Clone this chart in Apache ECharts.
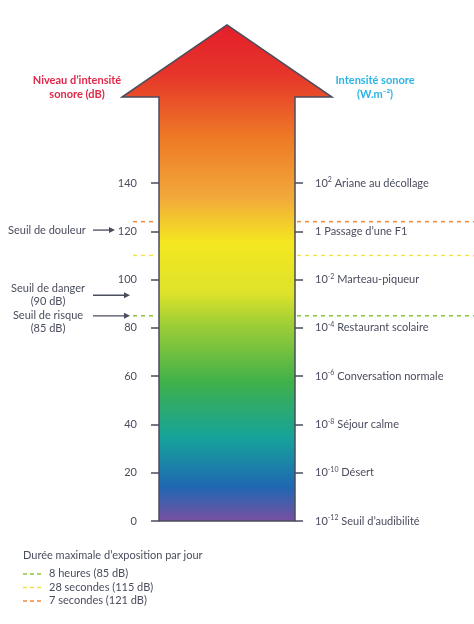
<!DOCTYPE html>
<html><head><meta charset="utf-8">
<script src="https://cdn.jsdelivr.net/npm/echarts@6/dist/echarts.min.js"></script>
<style>html,body{margin:0;background:#fff}#c{width:474px;height:624px}</style>
</head><body><div id="c"></div>
<script>
var chart = echarts.init(document.getElementById('c'));

// arrow outline, in axis units (x: 0..136 shaft, y: dB)
var arrowPts = [[0, 0], [136, 0], [136, 175.6], [173, 175.6], [68, 205.5], [-37, 175.6], [0, 175.6]];
var exponents = ['-12', '-10', '-8', '-6', '-4', '-2', '', '2'];
var sources = ['Seuil d\u2019audibilité', 'Désert', 'Séjour calme', 'Conversation normale',
  'Restaurant scolaire', 'Marteau-piqueur', 'Passage d\u2019une F1', 'Ariane au décollage'];
var limits = [124, 110, 85];
var limitColors = ['#f08a3c', '#f5e04a', '#8cc63f'];
var legendNames = ['8 heures (85 dB)', '28 secondes (115 dB)', '7 secondes (121 dB)'];
var legendColors = ['#8cc63f', '#f5e04a', '#f08a3c'];
var pointers = [{ name: 'douleur', y: 120.5, x0: -66, x1: -44 }, { name: 'danger', y: 93.5, x0: -66, x1: -29 }, { name: 'risque', y: 85, x0: -66, x1: -29 }];

var ink = '#4a4d5e';
var axisCommon = {
  type: 'value', min: 0, max: 140, interval: 20,
  axisLine: { show: false }, splitLine: { show: false },
  axisTick: { show: true, length: 8, lineStyle: { color: ink, width: 1.5 } }
};

function centered(txt, cx, y, fill, font, lh) {
  return { type: 'text', x: cx, y: y, style: { text: txt, align: 'center', fill: fill, font: font, lineHeight: lh } };
}

chart.setOption({
  animation: false,
  grid: { left: 159, right: 179, top: 183, bottom: 103 },
  xAxis: { type: 'value', min: 0, max: 136, show: false },
  yAxis: [
    Object.assign({}, axisCommon, { position: 'left', axisLabel: { margin: 22, color: ink, fontSize: 11, fontFamily: 'Lato' } }),
    Object.assign({}, axisCommon, { position: 'right', axisLabel: {
      margin: 20, align: 'left', fontFamily: 'Lato',
      formatter: function (v) {
        var i = v / 20;
        if (exponents[i] === '') return '{b|1 ' + sources[i] + '}';
        return '{b|10}{s|' + exponents[i] + '}{b| ' + sources[i] + '}';
      },
      rich: { b: { color: ink, fontSize: 11, fontFamily: 'Lato' }, s: { color: ink, fontSize: 7, verticalAlign: 'top', padding: [0, 0, 6, 0], fontFamily: 'Lato' } }
    } })
  ],
  graphic: [
    centered('Niveau d\u2019intensité\nsonore (dB)', 77, 73, '#e0294a', 'bold 11px Lato', 14),
    centered('Intensité sonore\n(W.m\u207b\u00b2)', 375, 73, '#2bb5e6', 'bold 11px Lato', 14),
    { type: 'text', x: 8, y: 225, style: { text: 'Seuil de douleur', fill: ink, font: '11px Lato' } },
    centered('Seuil de danger\n(90 dB)', 48, 282, ink, '11px Lato', 13),
    centered('Seuil de risque\n(85 dB)', 48, 309, ink, '11px Lato', 13),
    { type: 'text', x: 23, y: 550, style: { text: 'Durée maximale d\u2019exposition par jour', fill: ink, font: '11px Lato' } }
  ].concat(legendNames.map(function (n, i) {
    return { type: 'group', x: 23, y: 568 + i * 13.5, children: [
      { type: 'line', shape: { x1: 0, y1: 6, x2: 20, y2: 6 }, style: { stroke: legendColors[i], lineWidth: 1.5, lineDash: [4, 3] } },
      { type: 'text', x: 26, y: 0, style: { text: n, fill: ink, font: '11px Lato' } }
    ] };
  })),
  series: [{
    type: 'custom', clip: false, silent: true, data: [0],
    renderItem: function (params, api) {
      var pts = arrowPts.map(function (p) { return api.coord(p); });
      var children = [{
        type: 'polygon', shape: { points: pts },
        style: { stroke: ink, lineWidth: 1.5, lineJoin: 'miter',
          fill: new echarts.graphic.LinearGradient(0, 0, 0, 1, [
            { offset: 0, color: '#e41e2a' }, { offset: 0.1, color: '#e6352a' },
            { offset: 0.23, color: '#ee7a26' }, { offset: 0.35, color: '#f2aa3a' },
            { offset: 0.44, color: '#f4e720' }, { offset: 0.54, color: '#dde32a' },
            { offset: 0.6, color: '#a2cf35' }, { offset: 0.72, color: '#3fb04a' },
            { offset: 0.83, color: '#16a39a' }, { offset: 0.93, color: '#1f68b3' },
            { offset: 1, color: '#7a4fa0' }
          ]) }
      }];
      limits.forEach(function (v, i) {
        [[-26, -4], [138, 315]].forEach(function (r) {
          var a = api.coord([r[0], v]), b = api.coord([r[1], v]);
          children.push({ type: 'line', shape: { x1: a[0], y1: a[1], x2: b[0], y2: b[1] },
            style: { stroke: limitColors[i], lineWidth: 1.5, lineDash: [4, 4] } });
        });
      });
      pointers.forEach(function (p) {
        var a = api.coord([p.x0, p.y]), b = api.coord([p.x1, p.y]);
        children.push({ type: 'line', shape: { x1: a[0], y1: a[1], x2: b[0] - 4, y2: b[1] }, style: { stroke: ink, lineWidth: 1.3 } });
        children.push({ type: 'polygon', shape: { points: [[b[0], b[1]], [b[0] - 6, b[1] - 3], [b[0] - 6, b[1] + 3]] }, style: { fill: ink } });
      });
      return { type: 'group', children: children };
    }
  }]
});
</script></body></html>
